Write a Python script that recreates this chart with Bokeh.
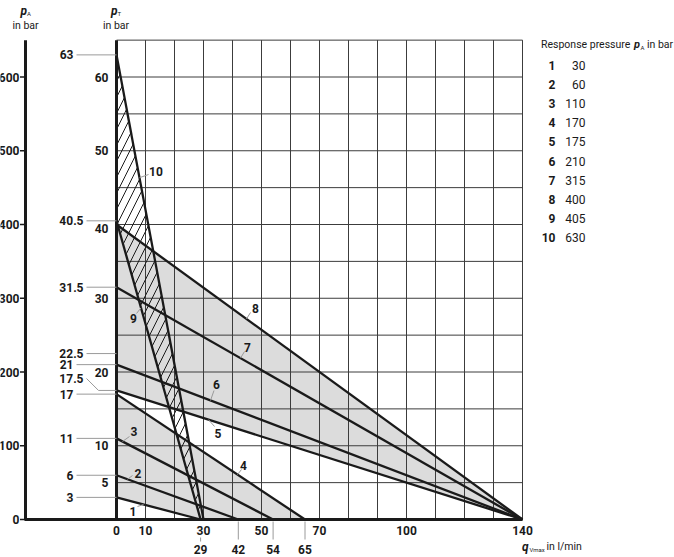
from bokeh.plotting import figure
from bokeh.models import Range1d
from bokeh.embed import file_html
from bokeh.resources import INLINE
from bokeh.core.properties import value

# ---------------- data ----------------
line_ids = ["1", "2", "3", "4", "5", "6", "7", "8", "9", "10"]
response_pA = [30, 60, 110, 170, 175, 210, 315, 400, 405, 630]
pT_start = [3, 6, 11, 17, 17.5, 21, 31.5, 40, 40.5, 63]
q_end = [29, 42, 54, 65, 140, 140, 140, 140, 29, 30]

pA_ticks = [0, 100, 200, 300, 400, 500, 600]
pT_ticks = [5, 10, 20, 30, 40, 50, 60]
q_ticks = [0, 10, 30, 50, 70, 100, 140]
q_marks = [29, 42, 54, 65]
pT_marks = [63, 40.5, 31.5, 22.5, 21, 17.5, 17, 11, 6, 3]
pT_mark_labels = ["63", "40.5", "31.5", "22.5", "21", "17.5", "17", "11", "6", "3"]
q_grid = [10, 20, 30, 40, 50, 60, 70, 80, 90, 100, 110, 120, 130, 140]
pT_grid = [5, 10, 15, 20, 25, 30, 35, 40, 45, 50, 55, 60, 65]
q_max = 140
pT_max = 65

# ---------------- layout (screen pixels) ----------------
W, H, M = 674, 557, 0
SX0, KX = 116.0, 2.9      # screen X of q=0, px per l/min
SY0, KY = 519.0, 7.375    # screen Y of pT=0, px per bar


def fx(X):
    return (X - SX0) / KX


def fy(Y):
    return (SY0 - Y) / KY


FONT = value("Roboto")
INK = "#1a1a1a"
LEAD = "#9a9a9a"

xr = Range1d(fx(M), fx(M + W))
yr = Range1d(fy(M + H), fy(M))
p = figure(width=W, height=H, x_range=xr, y_range=yr, output_backend="svg",
           toolbar_location=None, min_border=0)
p.extra_y_ranges = {"pA": Range1d(yr.start * 10, yr.end * 10)}
p.axis.visible = False
p.grid.visible = False
p.outline_line_color = None
p.background_fill_color = "white"


def line_y(i, x):
    return pT_start[i] * (1 - x / q_end[i])


# grey regions
a, b = 0, 3
p.patch([0, 0, q_end[b], q_end[a]], [pT_start[a], pT_start[b], 0, 0],
        fill_color="#dcdcdc", line_color=None)
a, b = 4, 7
p.patch([0, 0, q_end[b], q_end[a]], [pT_start[a], pT_start[b], 0, 0],
        fill_color="#dcdcdc", line_color=None)

# grid
p.segment(x0=q_grid, y0=[0] * len(q_grid), x1=q_grid, y1=[pT_max] * len(q_grid),
          line_color="#3c3c3c", line_width=1)
p.segment(x0=[0] * len(pT_grid), y0=pT_grid, x1=[q_max] * len(pT_grid), y1=pT_grid,
          line_color="#3c3c3c", line_width=1)

# hatched region between lines 9 and 10
a, b = 8, 9
p.patch([0, q_end[b], q_end[a], 0], [pT_start[b], 0, 0, pT_start[a]],
        fill_alpha=0, line_color=None, hatch_pattern="/", hatch_scale=16,
        hatch_color=INK, hatch_weight=1)

# characteristic lines
p.segment(x0=[0] * len(pT_start), y0=pT_start, x1=q_end, y1=[0] * len(q_end),
          line_color=INK, line_width=2.3)

# axes
p.segment(x0=[0], y0=[0], x1=[0], y1=[pT_max], line_color=INK, line_width=3)
p.segment(x0=[fx(25)], y0=[0], x1=[fx(25)], y1=[pT_max], line_color=INK, line_width=3)
p.segment(x0=[fx(24)], y0=[0], x1=[q_max], y1=[0], line_color=INK, line_width=3)

# pA axis ticks and labels
p.segment(x0=[fx(19.5)] * len(pA_ticks), y0=pA_ticks, x1=[fx(25)] * len(pA_ticks),
          y1=pA_ticks, line_color=INK, line_width=1.5, y_range_name="pA")
p.text(x=[fx(19)] * len(pA_ticks), y=pA_ticks, text=[str(v) for v in pA_ticks],
       text_align="right", text_baseline="middle", text_font=FONT,
       text_font_size="12px", text_font_style="bold", text_color=INK,
       y_range_name="pA")

# pT axis labels
pT_lab_y = [v - 0.5 if v == 40 else v for v in pT_ticks]
p.text(x=[fx(108)] * len(pT_ticks), y=pT_lab_y, text=[str(v) for v in pT_ticks],
       text_align="right", text_baseline="middle", text_font=FONT,
       text_font_size="12px", text_font_style="bold", text_color=INK)

# marked pT values with leaders
lx, ly, lt, ltxt_x, ltxt_y = [], [], [], [], []
for v, s in zip(pT_marks, pT_mark_labels):
    right = 83 if "." in s else 73
    ty = v
    if s == "17.5":
        ty = fy(378)
        lx.append([fx(right + 3), fx(98), 0])
        ly.append([ty, v, v])
    else:
        lx.append([fx(right + 3), 0])
        ly.append([v, v])
    ltxt_x.append(fx(right))
    ltxt_y.append(ty)
    lt.append(s)
p.multi_line(xs=lx, ys=ly, line_color=LEAD, line_width=1)
p.text(x=ltxt_x, y=ltxt_y, text=lt, text_align="right", text_baseline="middle",
       text_font=FONT, text_font_size="12px", text_font_style="bold", text_color=INK)

# q axis labels
p.text(x=q_ticks, y=[fy(530)] * len(q_ticks), text=[str(v) for v in q_ticks],
       text_align="center", text_baseline="middle", text_font=FONT,
       text_font_size="12px", text_font_style="bold", text_color=INK)
p.text(x=q_marks, y=[fy(549)] * len(q_marks), text=[str(v) for v in q_marks],
       text_align="center", text_baseline="middle", text_font=FONT,
       text_font_size="12px", text_font_style="bold", text_color=INK)
p.segment(x0=q_marks, y0=[fy(537) if v == 29 else fy(521) for v in q_marks],
          x1=q_marks, y1=[fy(541) if v == 29 else fy(539) for v in q_marks],
          line_color=LEAD, line_width=1)

# line number labels with leaders: (line index, X on line, leader end X, Y, text X, Y)
label_layout = [
    (0, 143, 137, 506, 132.5, 511),
    (1, 127, 132, 475, 137.5, 473),
    (2, 122, 129, 436, 133.5, 431),
    (3, 237, 241, 469, 243, 465),
    (4, 208, 214, 426, 217.5, 432.5),
    (5, 210, 213.5, 390, 216, 384),
    (6, 240, 244, 351, 247, 347),
    (7, 246, 250, 312, 255, 308),
    (8, 140.5, 136, 313, 133, 318),
    (9, 139, 148, 174, 155.5, 171),
]
lxs, lys, tx, ty, tt = [], [], [], [], []
for i, X, EX, EY, TX, TY in label_layout:
    x0 = fx(X)
    lxs.append([x0, fx(EX)])
    lys.append([line_y(i, x0), fy(EY)])
    tx.append(fx(TX))
    ty.append(fy(TY))
    tt.append(line_ids[i])
p.multi_line(xs=lxs, ys=lys, line_color=LEAD, line_width=1)
p.text(x=tx, y=ty, text=tt, text_align="center", text_baseline="middle",
       text_font=FONT, text_font_size="12px", text_font_style="bold", text_color=INK)


# axis titles
def sym(X, Y, main, sub, size="12px"):
    p.text(x=[fx(X)], y=[fy(Y)], text=[main], text_align="left", text_baseline="middle",
           text_font=FONT, text_font_size=size, text_font_style="bold italic",
           text_color=INK)
    p.text(x=[fx(X + 6.5)], y=[fy(Y + 3)], text=[sub], text_align="left",
           text_baseline="middle", text_font=FONT, text_font_size="6px",
           text_color=INK)


sym(20, 10, "p", "A")
p.text(x=[fx(25)], y=[fy(25)], text=["in bar"], text_align="center",
       text_baseline="middle", text_font=FONT, text_font_size="10.5px", text_color=INK)
sym(110.5, 10, "p", "T")
p.text(x=[fx(115.5)], y=[fy(25)], text=["in bar"], text_align="center",
       text_baseline="middle", text_font=FONT, text_font_size="10.5px", text_color=INK)

p.text(x=[fx(521.5)], y=[fy(546)], text=["q"], text_align="left", text_baseline="middle",
       text_font=FONT, text_font_size="12px", text_font_style="bold italic", text_color=INK)
p.text(x=[fx(529)], y=[fy(549)], text=["Vmax"], text_align="left", text_baseline="middle",
       text_font=FONT, text_font_size="6px", text_color=INK)
p.text(x=[fx(546)], y=[fy(546)], text=["in l/min"], text_align="left",
       text_baseline="middle", text_font=FONT, text_font_size="10.5px", text_color=INK)

# legend table
p.text(x=[fx(540.5)], y=[fy(44)], text=["Response pressure"], text_align="left",
       text_baseline="middle", text_font=FONT, text_font_size="10.5px", text_color=INK)
sym(633.5, 44, "p", "A", size="11px")
p.text(x=[fx(646.5)], y=[fy(44)], text=["in bar"], text_align="left",
       text_baseline="middle", text_font=FONT, text_font_size="10.5px", text_color=INK)
rows_y = [fy(64.5 + 19.2 * k) for k in range(len(line_ids))]
p.text(x=[fx(555)] * len(line_ids), y=rows_y, text=line_ids, text_align="right",
       text_baseline="middle", text_font=FONT, text_font_size="12px",
       text_font_style="bold", text_color=INK)
p.text(x=[fx(585)] * len(line_ids), y=rows_y, text=[str(v) for v in response_pA],
       text_align="right", text_baseline="middle", text_font=FONT,
       text_font_size="12px", text_color=INK)

open("out.html", "w").write(file_html(p, INLINE))
